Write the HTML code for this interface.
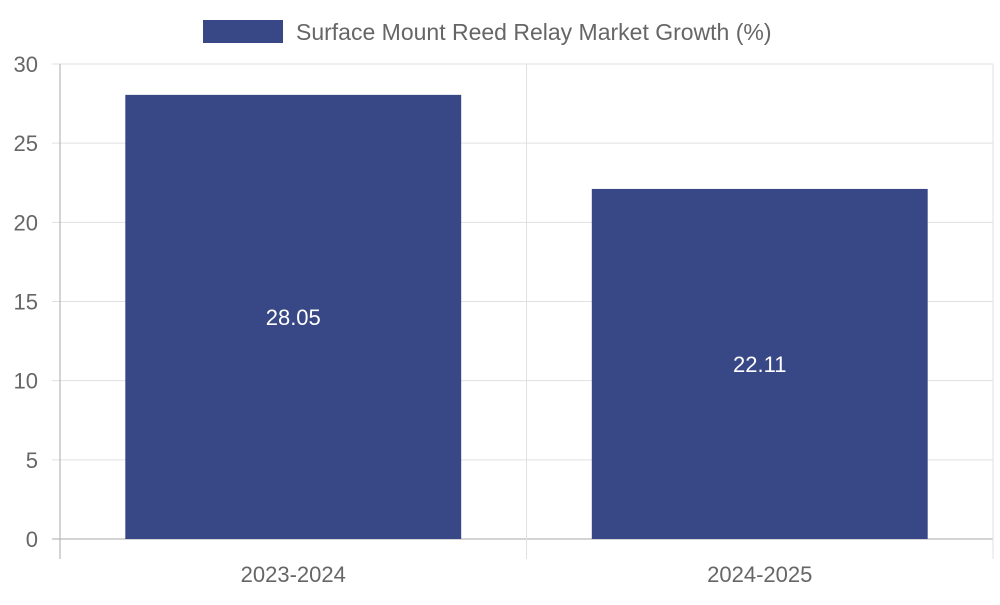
<!DOCTYPE html>
<html><head><meta charset="utf-8"><style>
body{margin:0;background:#fff;font-family:"Liberation Sans",sans-serif}
svg text{font-family:"Liberation Sans",sans-serif}
</style></head><body>
<svg id="chart" width="1000" height="600">
<rect x="203" y="20" width="80" height="23" fill="#384785"/>
<text x="296" y="40" font-size="23" fill="#666">Surface Mount Reed Relay Market Growth (%)</text>
<g id="grid"></g><g id="bars"></g>
</svg>
<script>
const categories=["2023-2024","2024-2025"];
const values=[28.05,22.11];
const yTicks=[0,5,10,15,20,25,30];
const L=60,R=993,T=64,B=539,yMax=30;
const ns="http://www.w3.org/2000/svg";
const y=v=>B-(v/yMax)*(B-T);
const bw=(R-L)/categories.length;
const g=document.getElementById('grid'),bg=document.getElementById('bars');
function mk(tag,attrs,parent,txt){const e=document.createElementNS(ns,tag);for(const k in attrs)e.setAttribute(k,attrs[k]);if(txt!==undefined)e.textContent=txt;parent.appendChild(e);return e;}
yTicks.forEach(t=>{
 const ln=mk('line',{x1:L-8,x2:R,y1:y(t),y2:y(t),stroke:t===0?'#aaa':'#e0e0e0','stroke-width':1},g);
 
 
 const tx=mk('text',{x:L-22,y:y(t)+8,'text-anchor':'end','font-size':22,fill:'#666'},g,t);
 
 
});
for(let i=0;i<=categories.length;i++){
 const x=L+i*bw;
 const ln=mk('line',{x1:x,x2:x,y1:T,y2:B+20,stroke:i===0?'#aaa':'#e0e0e0','stroke-width':1},g);
 
 
}
categories.forEach((c,i)=>{
 const cx=L+bw*(i+0.5),w=bw*0.72;
 const r=mk('rect',{x:cx-w/2,y:y(values[i]),width:w,height:B-y(values[i]),fill:'#384785'},bg);
 
 
 const v=mk('text',{x:cx,y:(y(values[i])+B)/2+8,'text-anchor':'middle','font-size':22,fill:'#fff'},bg,values[i].toFixed(2));
 
 
 const t=mk('text',{x:cx,y:582,'text-anchor':'middle','font-size':22,fill:'#666'},bg,c);
 
 
});
</script>
</body></html>
